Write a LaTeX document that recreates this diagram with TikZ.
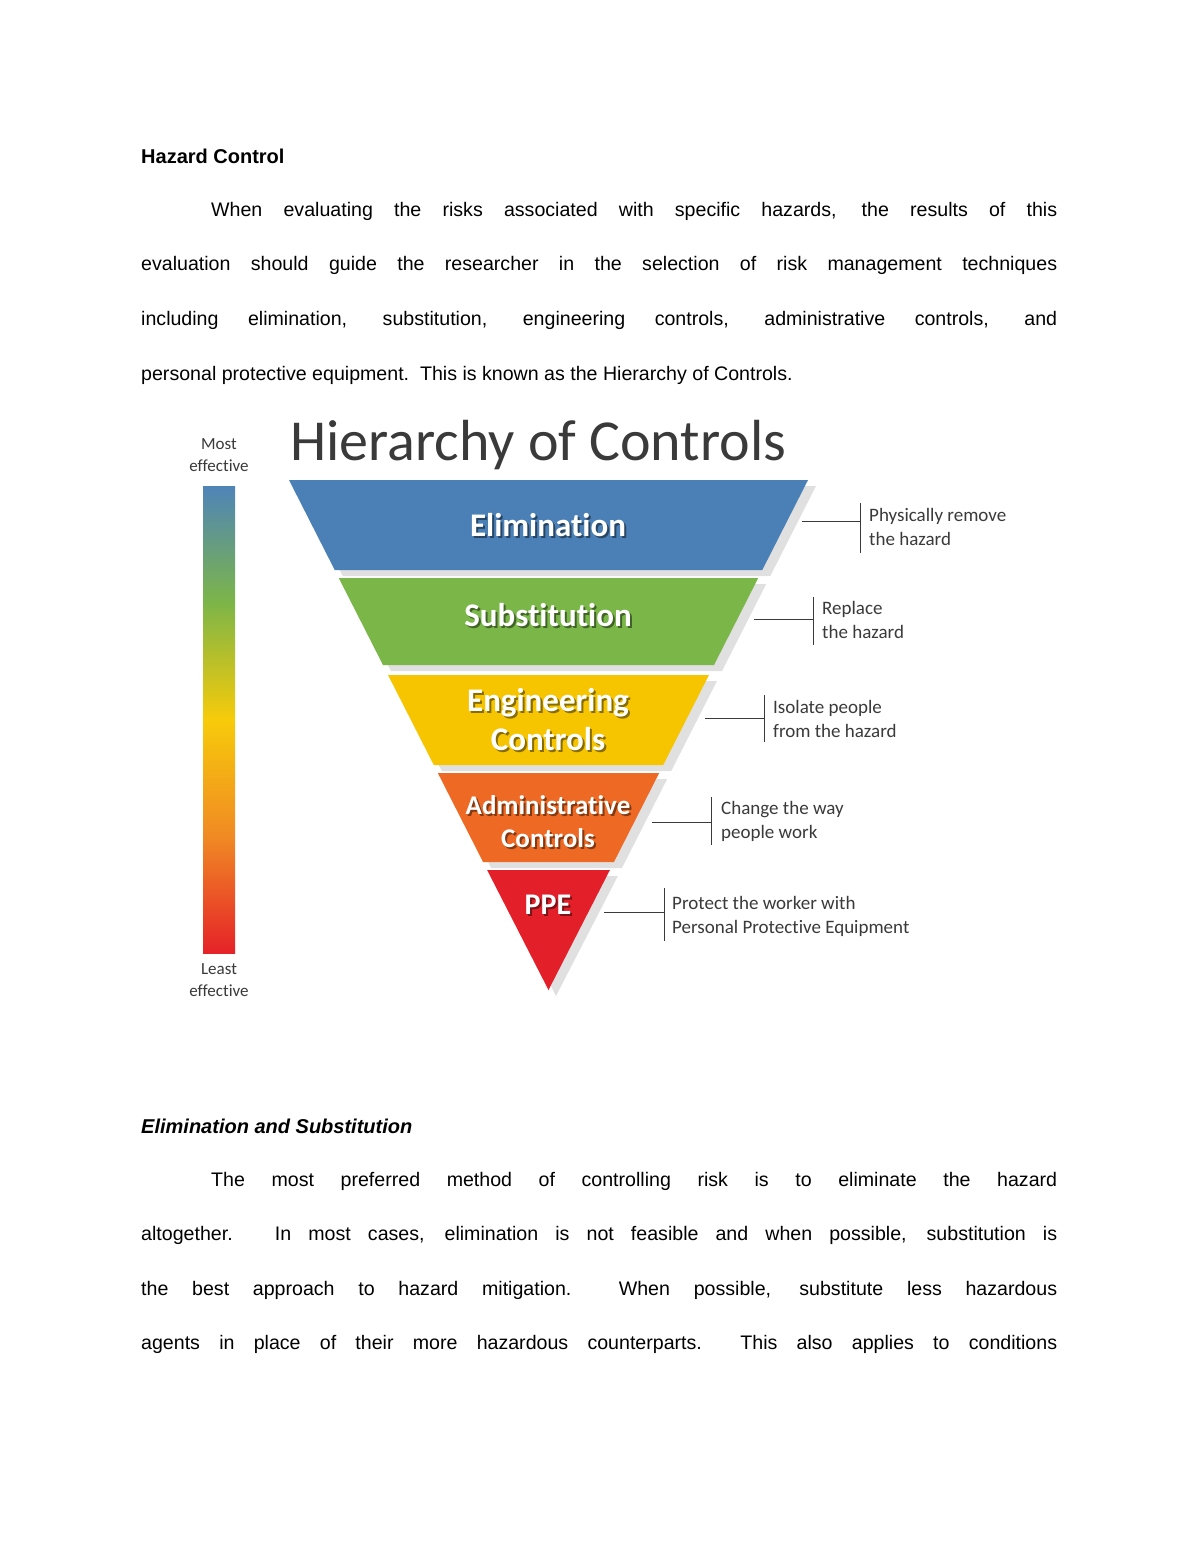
\documentclass[tikz,border=0pt]{standalone}
\usepackage{fontspec}
\setmainfont{Liberation Sans}
\newfontfamily\calfont[Ligatures=NoCommon]{Carlito}
\definecolor{redb}{HTML}{E52228}
\definecolor{orangeb}{HTML}{F08A24}
\definecolor{yellowb}{HTML}{F7CB0A}
\definecolor{greenb}{HTML}{7DB548}
\definecolor{blueb}{HTML}{4F84B8}
\definecolor{cblue}{HTML}{4A80B6}
\definecolor{cgreen}{HTML}{7AB648}
\definecolor{cyellow}{HTML}{F6C500}
\definecolor{corange}{HTML}{EE6A24}
\definecolor{cred}{HTML}{E31F29}
\definecolor{dgray}{HTML}{3A3A3A}
\pgfdeclareverticalshading{hocbar}{100bp}{color(0bp)=(redb); color(25bp)=(redb); color(37.5bp)=(orangeb); color(50bp)=(yellowb); color(62.5bp)=(greenb); color(75bp)=(blueb); color(100bp)=(blueb)}
\newcommand{\jl}[1]{\parbox{916pt}{\parfillskip=0pt\relax #1}}
\begin{document}
\begin{tikzpicture}[x=1pt,y=-1pt,
  body/.style={anchor=base west,inner sep=0,font=\fontsize{19.6}{24}\selectfont},
  lvl/.style={text=white,align=center,inner sep=0},
  side/.style={anchor=west,inner sep=0,align=left,font=\calfont\fontsize{19}{24}\selectfont,text=dgray},
  tick/.style={draw=dgray,line width=0.9pt},
  eff/.style={inner sep=0,align=center,font=\calfont\fontsize{17}{22}\selectfont,text=dgray}]
\useasboundingbox[fill=white] (0,0) rectangle (1200,1553);
\node[body,font=\bfseries\fontsize{20}{24}\selectfont] (h1) at (141,163) {Hazard Control};
\node[body] (p1) at (141,217) {\jl{\hspace*{70pt}When evaluating the risks associated with specific hazards, the results of this}};
\node[body] (p2) at (141,271) {\jl{evaluation should guide the researcher in the selection of risk management techniques}};
\node[body] (p3) at (141,326) {\jl{including elimination, substitution, engineering controls, administrative controls, and}};
\node[body] (p4) at (141,380) {personal protective equipment.\ \ This is known as the Hierarchy of Controls.};
% title
\node[anchor=base west,inner sep=0,font=\calfont\fontsize{58}{60}\selectfont,text=dgray] (t) at (290,460) {Hierarchy of Controls};
% bar
\shade[shading=hocbar] (203,486) rectangle (235,953);
\node[eff] (most) at (219,455) {Most\\effective};
\node[eff] (least) at (219,980) {Least\\effective};
% layers (shadow)
\foreach \a/\b in {480/570,578/665,675/765,773/862}{
  \fill[black,opacity=0.12] ({289+0.508*(\a-480)+8},\a+6) -- ({808-0.508*(\a-480)+8},\a+6) -- ({808-0.508*(\b-480)+8},\b+6) -- ({289+0.508*(\b-480)+8},\b+6) -- cycle;}
\fill[black,opacity=0.12] ({289+0.508*390+8},876) -- ({808-0.508*390+8},876) -- (556,996) -- cycle;
\fill[cblue] (289,480) -- (808,480) -- ({808-0.508*90},570) -- ({289+0.508*90},570) -- cycle;
\fill[cgreen] ({289+0.508*98},578) -- ({808-0.508*98},578) -- ({808-0.508*185},665) -- ({289+0.508*185},665) -- cycle;
\fill[cyellow] ({289+0.508*195},675) -- ({808-0.508*195},675) -- ({808-0.508*285},765) -- ({289+0.508*285},765) -- cycle;
\fill[corange] ({289+0.508*293},773) -- ({808-0.508*293},773) -- ({808-0.508*382},862) -- ({289+0.508*382},862) -- cycle;
\fill[cred] ({289+0.508*390},870) -- ({808-0.508*390},870) -- (548.5,990) -- cycle;
% labels
\foreach \n/\x/\y/\t/\s/\ls in {le/548/525/Elimination/33/38, ls/548/615/Substitution/33/38, lg/548/720/{Engineering\\Controls}/33/39, la/548/822/{Administrative\\Controls}/27/33, lp/548/905/PPE/30/34}{
  \node[lvl,text=black,opacity=0.45,font=\calfont\bfseries\fontsize{\s}{\ls}\selectfont] at (\x+2,\y+2) {\t};
  \node[lvl,font=\calfont\bfseries\fontsize{\s}{\ls}\selectfont] (\n) at (\x,\y) {\t};}
% side notes
\draw[tick] (802,521) -- (860,521); \draw[tick] (860,503) -- (860,553);
\node[side] (s1) at (869,527) {Physically remove\\the hazard};
\draw[tick] (754,619) -- (813,619); \draw[tick] (813,597) -- (813,645);
\node[side] (s2) at (822,620) {Replace\\the hazard};
\draw[tick] (705,718) -- (764,718); \draw[tick] (764,695) -- (764,742);
\node[side] (s3) at (773,719) {Isolate people\\from the hazard};
\draw[tick] (652,822) -- (711,822); \draw[tick] (711,797) -- (711,845);
\node[side] (s4) at (721,821) {Change the way\\people work};
\draw[tick] (604,912) -- (664,912); \draw[tick] (664,888) -- (664,941);
\node[side] (s5) at (672,916) {Protect the worker with\\Personal Protective Equipment};
% second section
\node[body,font=\bfseries\itshape\fontsize{20}{24}\selectfont] (h2) at (141,1133) {Elimination and Substitution};
\node[body] (q1) at (141,1187) {\jl{\hspace*{70pt}The most preferred method of controlling risk is to eliminate the hazard}};
\node[body] (q2) at (141,1241) {\jl{altogether. In most cases, elimination is not feasible and when possible, substitution is}};
\node[body] (q3) at (141,1296) {\jl{the best approach to hazard mitigation.\ \ When possible, substitute less hazardous}};
\node[body] (q4) at (141,1350) {\jl{agents in place of their more hazardous counterparts.\ \ This also applies to conditions}};
\end{tikzpicture}
\end{document}
